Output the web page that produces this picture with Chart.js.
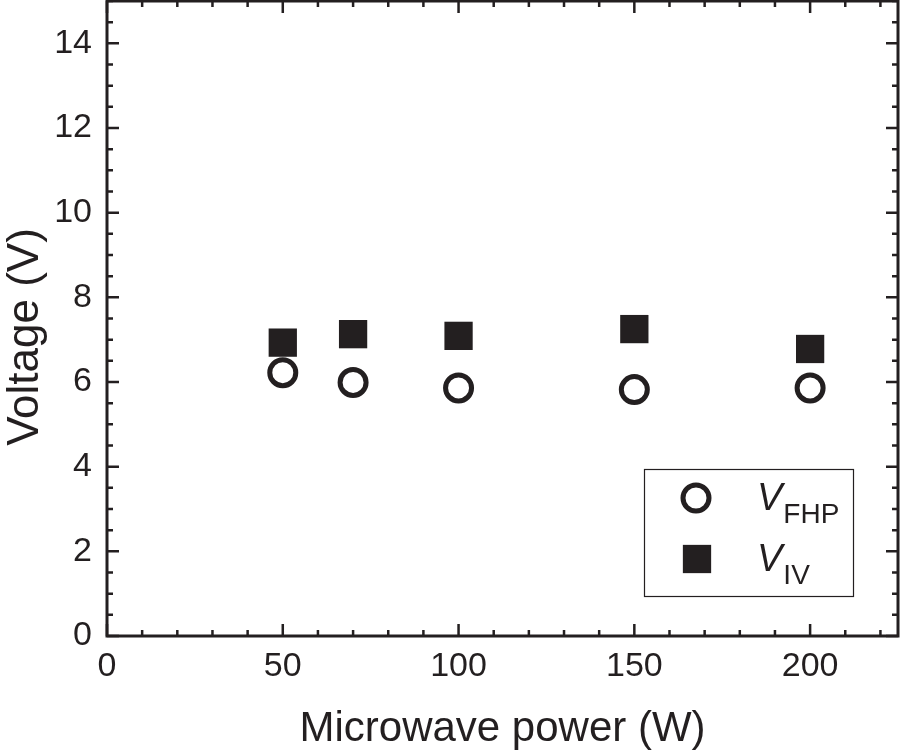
<!DOCTYPE html>
<html>
<head>
<meta charset="utf-8">
<script src="https://cdn.jsdelivr.net/npm/chart.js@4.4.1/dist/chart.umd.min.js"></script>
<style>
  html, body { margin: 0; padding: 0; background: #fff; }
  #wrap { width: 900px; height: 750px; }
</style>
</head>
<body>
<div id="wrap"><canvas id="chart" width="900" height="750"></canvas></div>
<script>
// data
var power = [50, 70, 100, 150, 200];
var vFHP = [6.22, 5.99, 5.86, 5.82, 5.86];
var vIV = [6.93, 7.13, 7.09, 7.25, 6.78];

var xTicks = [0, 50, 100, 150, 200];
var yTicks = [0, 2, 4, 6, 8, 10, 12, 14];
var seriesNames = ['FHP', 'IV'];

var ink = '#231f20';
var fontFam = "'Liberation Sans', Arial, Helvetica, sans-serif";

function toPoints(xs, ys) {
  return xs.map(function (x, i) { return { x: x, y: ys[i] }; });
}

function noPad(scale) {
  scale.paddingTop = 0; scale.paddingBottom = 0;
  scale.paddingLeft = 0; scale.paddingRight = 0;
}

// frame, inward ticks, axis titles and the legend
var decor = {
  id: 'decor',
  afterDraw: function (chart) {
    var ctx = chart.ctx;
    var a = chart.chartArea;
    var xs = chart.scales.x, ys = chart.scales.y;
    ctx.save();
    ctx.strokeStyle = ink;
    ctx.fillStyle = ink;

    // ticks
    ctx.lineWidth = 2.5;
    ctx.beginPath();
    var v, px, len;
    for (v = xs.min; v <= xs.max + 1e-9; v += 10) {
      px = xs.getPixelForValue(v);
      len = xTicks.indexOf(v) >= 0 ? 12 : 6;
      ctx.moveTo(px, a.bottom); ctx.lineTo(px, a.bottom - len);
      ctx.moveTo(px, a.top); ctx.lineTo(px, a.top + len);
    }
    for (v = ys.min; v <= ys.max + 1e-9; v += 0.5) {
      px = ys.getPixelForValue(v);
      len = yTicks.indexOf(v) >= 0 ? 12 : 6;
      ctx.moveTo(a.left, px); ctx.lineTo(a.left + len, px);
      ctx.moveTo(a.right, px); ctx.lineTo(a.right - len, px);
    }
    ctx.stroke();

    // frame
    ctx.lineWidth = 3;
    ctx.strokeRect(a.left, a.top, a.right - a.left, a.bottom - a.top);

    // axis titles
    ctx.font = '42px ' + fontFam;
    ctx.textAlign = 'center';
    ctx.textBaseline = 'alphabetic';
    ctx.fillText('Microwave power (W)', (a.left + a.right) / 2, 741);
    ctx.save();
    ctx.font = '44px ' + fontFam;
    ctx.translate(38, 337);
    ctx.rotate(-Math.PI / 2);
    ctx.fillText('Voltage (V)', 0, 0);
    ctx.restore();

    // legend
    ctx.lineWidth = 1.2;
    ctx.strokeRect(644.5, 469.5, 209, 127);
    var ds = chart.data.datasets;
    var rows = [498, 559];
    for (var i = 0; i < ds.length; i++) {
      var cy = rows[i];
      if (ds[i].pointStyle === 'circle') {
        ctx.lineWidth = ds[i].borderWidth;
        ctx.beginPath();
        ctx.arc(696, cy, ds[i].pointRadius, 0, Math.PI * 2);
        ctx.stroke();
      } else {
        var s = ds[i].pointRadius * Math.SQRT1_2;
        ctx.fillRect(697 - s, cy - s, 2 * s, 2 * s);
      }
      ctx.textAlign = 'left';
      ctx.font = 'italic 38px ' + fontFam;
      ctx.fillText('V', 757, cy + 12);
      var w = ctx.measureText('V').width;
      ctx.font = '28px ' + fontFam;
      ctx.fillText(seriesNames[i], 757 + w + 1, cy + 25);
    }
    ctx.restore();
  }
};

new Chart(document.getElementById('chart'), {
  type: 'scatter',
  data: {
    datasets: [
      {
        label: 'V_FHP',
        data: toPoints(power, vFHP),
        pointStyle: 'circle',
        pointRadius: 13,
        pointHoverRadius: 13,
        borderWidth: 5,
        borderColor: ink,
        backgroundColor: 'rgba(255,255,255,0)',
        showLine: false
      },
      {
        label: 'V_IV',
        data: toPoints(power, vIV),
        pointStyle: 'rect',
        pointRadius: 20,
        pointHoverRadius: 20,
        borderWidth: 0,
        borderColor: ink,
        backgroundColor: ink,
        showLine: false
      }
    ]
  },
  options: {
    responsive: false,
    animation: false,
    events: [],
    layout: { autoPadding: false, padding: { left: 0, right: 2, top: 1, bottom: 0 } },
    plugins: { legend: { display: false }, tooltip: { enabled: false } },
    scales: {
      x: {
        type: 'linear',
        min: 0,
        max: 225,
        afterBuildTicks: function (scale) {
          scale.ticks = xTicks.map(function (t) { return { value: t }; });
        },
        afterFit: function (scale) { scale.height = 114; noPad(scale); },
        grid: { display: false, drawTicks: false },
        border: { display: false },
        ticks: {
          padding: 10,
          maxRotation: 0,
          color: ink,
          font: { family: fontFam, size: 34 }
        }
      },
      y: {
        type: 'linear',
        min: 0,
        max: 15,
        afterBuildTicks: function (scale) {
          scale.ticks = yTicks.map(function (t) { return { value: t }; });
        },
        afterFit: function (scale) { scale.width = 107; noPad(scale); },
        grid: { display: false, drawTicks: false },
        border: { display: false },
        ticks: {
          padding: 15,
          color: ink,
          font: { family: fontFam, size: 34 }
        }
      }
    }
  },
  plugins: [decor]
});
</script>
</body>
</html>
